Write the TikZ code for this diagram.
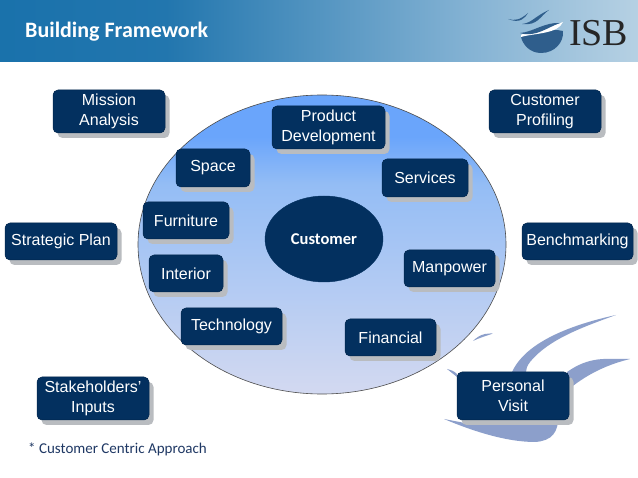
\documentclass[tikz,border=0pt]{standalone}
\usepackage{fontspec}
\setmainfont{Liberation Sans}
\newfontfamily\calibri{Carlito}
\newfontfamily\logofont{Liberation Serif}
\usetikzlibrary{shadows,shapes.geometric}
\definecolor{navy}{HTML}{03305F}
\definecolor{shad}{HTML}{B9BCC0}
\definecolor{swoosh}{HTML}{8C9FCB}
\definecolor{foot}{HTML}{1F3864}
\definecolor{headA}{HTML}{0A69A6}
\definecolor{headB}{HTML}{2276AE}
\definecolor{headC}{HTML}{85B3D4}
\definecolor{headD}{HTML}{C5DAE8}
\definecolor{headE}{HTML}{F4F8FA}
\definecolor{ballA}{HTML}{6AA5FB}
\definecolor{ballB}{HTML}{F8E8F6}
\definecolor{ballC}{HTML}{DCDDF0}
\definecolor{ballD}{HTML}{94BDF5}
\definecolor{logoblue}{HTML}{2F5E8C}
\pgfdeclarehorizontalshading{headshade}{100bp}{
  color(0bp)=(headA); color(38bp)=(headB); color(62bp)=(headC); color(79bp)=(headD); color(94bp)=(headE); color(100bp)=(headE)}
\pgfdeclareverticalshading{ballshade}{100bp}{
  color(0bp)=(ballB); color(20bp)=(ballC); color(60bp)=(ballD); color(68bp)=(ballA); color(100bp)=(ballA)}
\tikzset{
  box/.style={draw=navy!80!black, line width=0.5pt, fill=navy, rounded corners=5pt, text=white,
    align=center, inner sep=0pt, font=\fontsize{16}{19.5}\selectfont,
    general shadow={shadow xshift=4.5pt, shadow yshift=-5pt, fill=shad}},
  swooshfill/.style={fill=swoosh, draw=none},
}
\newcommand{\bx}[6]{\node[box, minimum width=#3pt-#1pt, minimum height=#4pt-#2pt] (#5) at ({(#1+#3)/2},{(#2+#4)/2}) {#6};}
\begin{document}
\begin{tikzpicture}[x=1pt,y=-1pt]
\useasboundingbox (0,0) rectangle (638,478);
\fill[white] (0,0) rectangle (638,478);
% header band
\shade[shading=headshade] (0,0) rectangle (638,62);
\node[anchor=west, text=white, font=\calibri\bfseries\fontsize{22}{26}\selectfont, inner sep=0pt] (title) at (25,32) {Building Framework};
% logo
\node[anchor=west, inner sep=0pt, text=black!85, font=\logofont\fontsize{38}{38}\selectfont] (isb) at (569,33) {ISB};
\fill[logoblue] (521,37) .. controls (527,32) and (552,28) .. (563,31) .. controls (564,42) and (555,53) .. (541,53) .. controls (530,53) and (523,45) .. (521,37) -- cycle;
\fill[white] (521,35) .. controls (535,27) and (550,28) .. (563,22) .. controls (558,34) and (535,33) .. (521,37) -- cycle;
\fill[logoblue] (508,19) .. controls (515,21) and (520,20) .. (528,13) .. controls (525,18) and (520,24) .. (508,19) -- cycle;
\fill[logoblue] (522,24) .. controls (532,23) and (535,16) .. (549,10) .. controls (540,16) and (538,26) .. (522,24) -- cycle;
\fill[logoblue] (520,33) .. controls (533,32) and (545,22) .. (560,23) .. controls (548,27) and (535,38) .. (520,33) -- cycle;
% watermark swoosh
\fill[swooshfill] (473,341) .. controls (485,335) and (503,332) .. (485,334) .. controls (480,335) and (476,338) .. (473,341) -- cycle;
\fill[swooshfill] (512,372) .. controls (522,350) and (552,329) .. (616,315) .. controls (580,328) and (548,340) .. (530,362) .. controls (527,366) and (526,369) .. (526,372) -- cycle;
\fill[swooshfill] (567,372) .. controls (590,356) and (605,359) .. (630,359) .. controls (610,364) and (590,372) .. (569,389) -- cycle;
\fill[swooshfill] (444,419) .. controls (470,430) and (505,442) .. (535,442) .. controls (552,441) and (559,432) .. (558,415) -- (500,422) -- (470,424) -- cycle;
\fill[swooshfill] (447,369) .. controls (451,370) and (454,371) .. (457,374) -- (457,377) -- cycle;
% big ellipse
\shade[shading=ballshade] (322,244.5) ellipse [x radius=184, y radius=149.5];
\draw[line width=0.6pt, draw=black!70] (322,244.5) ellipse [x radius=184, y radius=149.5];
% customer
\node[draw=navy, fill=navy, ellipse, minimum width=118pt, minimum height=86pt, inner sep=0pt, text=white, font=\calibri\bfseries\fontsize{16.5}{20}\selectfont] (customer) at (324,239) {Customer};
% boxes
\bx{53}{90}{165}{133}{mission}{Mission\\Analysis}
\bx{489}{90}{601}{133}{profiling}{Customer\\Profiling}
\bx{272}{106}{385}{149}{product}{Product\\Development}
\bx{176}{149}{250}{187}{space}{Space}
\bx{382}{159}{468}{197}{services}{Services}
\bx{143}{202}{229}{239}{furniture}{Furniture}
\bx{149}{255}{223}{292}{interior}{Interior}
\bx{181}{308}{282}{345}{technology}{Technology}
\bx{5}{223}{117}{260}{strategic}{Strategic Plan}
\bx{37}{377}{149}{420}{stake}{Stakeholders’\\Inputs}
\bx{457}{372}{569}{420}{personal}{Personal\\Visit}
\bx{404}{250}{495}{287}{manpower}{Manpower}
\bx{345}{319}{436}{356}{financial}{Financial}
\bx{522}{223}{633}{260}{bench}{Benchmarking}
% footnote
\node[anchor=west, inner sep=0pt, text=foot, font=\calibri\fontsize{15}{18}\selectfont] (note) at (28,449) {* Customer Centric Approach};
\end{tikzpicture}
\end{document}
